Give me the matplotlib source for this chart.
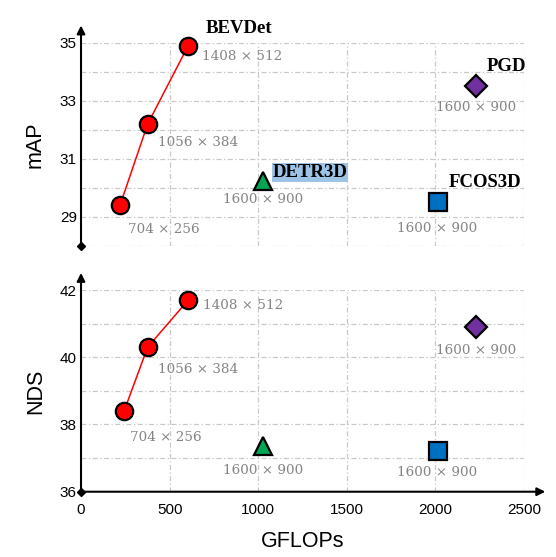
import matplotlib
matplotlib.use("Agg")
import matplotlib.pyplot as plt

# Données
bevdet_res = ["704 × 256", "1056 × 384", "1408 × 512"]
bevdet_gflops_map = [220, 376, 605]
bevdet_map = [29.4, 32.2, 34.9]
bevdet_gflops_nds = [243, 376, 605]
bevdet_nds = [38.4, 40.3, 41.7]

other_names = ["DETR3D", "FCOS3D", "PGD"]
other_res = ["1600 × 900", "1600 × 900", "1600 × 900"]
other_gflops = [1025, 2012, 2228]
other_map = [30.25, 29.5, 33.5]
other_nds = [37.35, 37.2, 40.9]
other_markers = ["^", "s", "D"]
other_colors = ["#00A651", "#0070C0", "#7030A0"]

SANS = "Liberation Sans"
SERIF_GRAY = "DejaVu Serif"
GRAY = "#858585"
GRID = "#c8c8c8"

fig = plt.figure(figsize=(5.56, 5.57), dpi=100)
ax_top = fig.add_axes([0.1457, 0.5583, 0.7968, 0.365])
ax_bot = fig.add_axes([0.1457, 0.1172, 0.7968, 0.3621])


def setup(ax, ylo, yhi, yticks, with_xaxis):
    ax.set_xlim(0, 2500)
    ax.set_ylim(ylo, yhi)
    for s in ax.spines.values():
        s.set_visible(False)
    # grille pointillée
    for x in range(500, 2501, 500):
        ax.axvline(x, color=GRID, lw=0.9, ls=(0, (4, 2, 1, 2)), zorder=0)
    for y in range(ylo, yhi + 1):
        if with_xaxis and y == ylo:
            continue
        ax.axhline(y, color=GRID, lw=0.9, ls=(0, (4, 2, 1, 2)), zorder=0)
    ax.set_yticks(yticks)
    ax.set_yticklabels([str(t) for t in yticks], fontfamily=SANS, fontsize=11)
    ax.tick_params(axis="y", length=0, pad=3)
    if with_xaxis:
        ax.set_xticks([0, 500, 1000, 1500, 2000, 2500])
        ax.set_xticklabels(["0", "500", "1000", "1500", "2000", "2500"],
                           fontfamily=SANS, fontsize=11)
        ax.tick_params(axis="x", length=0, pad=8)
        ax.annotate("", xy=(2620, ylo), xytext=(0, ylo),
                    arrowprops=dict(arrowstyle="-|>", color="black", lw=1.5,
                                    mutation_scale=12, shrinkA=0, shrinkB=0),
                    annotation_clip=False)
    else:
        ax.set_xticks([])
    # axe y avec flèche
    ax.annotate("", xy=(0, yhi + (yhi - ylo) * 0.085), xytext=(0, ylo),
                arrowprops=dict(arrowstyle="-|>", color="black", lw=1.5,
                                mutation_scale=12, shrinkA=0, shrinkB=0),
                annotation_clip=False)
    ax.plot([0], [ylo], marker="D", color="black", ms=4, clip_on=False, zorder=5)


setup(ax_top, 28, 35, [29, 31, 33, 35], False)
setup(ax_bot, 36, 42, [36, 38, 40, 42], True)

ax_top.set_ylabel("mAP", fontfamily=SANS, fontsize=15.5, labelpad=10)
ax_bot.set_ylabel("NDS", fontfamily=SANS, fontsize=15.5, labelpad=10)
ax_bot.set_xlabel("GFLOPs", fontfamily=SANS, fontsize=15.5, labelpad=10)


def gray_label(ax, text, xy, off, ha="left"):
    ax.annotate(text, xy=xy, xytext=off, textcoords="offset pixels",
                ha=ha, va="center", fontfamily=SERIF_GRAY, fontsize=9.7,
                color=GRAY, annotation_clip=False)


def bold_label(ax, text, xy, off, bbox=None):
    ax.annotate(text, xy=xy, xytext=off, textcoords="offset pixels",
                ha="left", va="center", fontfamily="Liberation Serif",
                fontweight="bold", fontsize=13.5, color="black",
                bbox=bbox, annotation_clip=False)


# BEVDet
for ax, gx, vals in [(ax_top, bevdet_gflops_map, bevdet_map),
                     (ax_bot, bevdet_gflops_nds, bevdet_nds)]:
    ax.plot(gx, vals, color="#FF0000", lw=1.1, zorder=3)
    ax.plot(gx, vals, "o", ms=12.5, mfc="#FF0000", mec="black", mew=1.6,
            zorder=4, clip_on=False)

top_offs = [(8, -24), (10, -18), (14, -11)]
bot_offs = [(6, -26), (10, -22), (15, -5)]
for i, r in enumerate(bevdet_res):
    gray_label(ax_top, r, (bevdet_gflops_map[i], bevdet_map[i]), top_offs[i])
    gray_label(ax_bot, r, (bevdet_gflops_nds[i], bevdet_nds[i]), bot_offs[i])
bold_label(ax_top, "BEVDet", (bevdet_gflops_map[2], bevdet_map[2]), (17, 17))

# autres méthodes
size = {"^": 13, "s": 12.5, "D": 11.5}
name_offs = [(10, 8), (11, 20), (11, 20)]
res_top_offs = [(0, -19), (0, -26), (0, -21)]
res_bot_offs = [(0, -24), (0, -21), (0, -23)]
for i, name in enumerate(other_names):
    for ax, vals in [(ax_top, other_map), (ax_bot, other_nds)]:
        ax.plot([other_gflops[i]], [vals[i]], other_markers[i], ms=size[other_markers[i]],
                mfc=other_colors[i], mec="black", mew=1.6, zorder=4)
    gray_label(ax_top, other_res[i], (other_gflops[i], other_map[i]), res_top_offs[i], ha="center")
    gray_label(ax_bot, other_res[i], (other_gflops[i], other_nds[i]), res_bot_offs[i], ha="center")
    bbox = None
    if name == "DETR3D":
        bbox = dict(facecolor="#9DC3E6", edgecolor="none", pad=0.5)
    bold_label(ax_top, name, (other_gflops[i], other_map[i]), name_offs[i], bbox=bbox)

fig.savefig("out.png", dpi=100)
